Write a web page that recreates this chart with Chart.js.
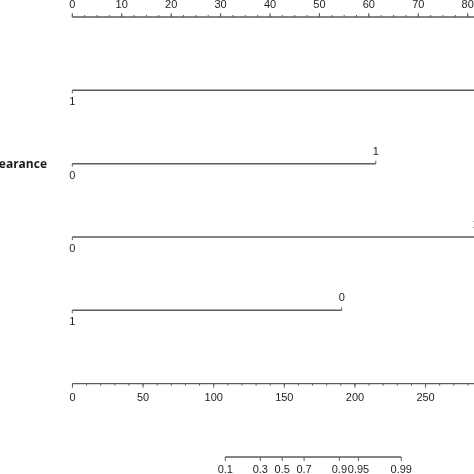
<!DOCTYPE html>
<html>
<head>
<meta charset="utf-8">
<script src="https://cdn.jsdelivr.net/npm/chart.js@4"></script>
<style>
  html,body{margin:0;padding:0;background:#fff;}
  #wrap{width:474px;height:474px;}
</style>
</head>
<body>
<div id="wrap"><canvas id="myCanvas" width="474" height="474"></canvas></div>
<script>
// points scale ticks (top axis)
var pointTicks=[0,10,20,30,40,50,60,70,80,90,100];
// variable rows: start/end in points, labels at the two ends
var rowNames=['','Appearance','',''];
var rowStart=[0,0,0,0];
var rowEnd=[100,61.4,81.6,54.5];
var rowLeftLabel=['1','0','0','1'];
var rowRightLabel=['0','1','1','0'];
// total points axis
var totalTicks=[0,50,100,150,200,250,300,350];
// risk axis: probabilities and where they sit on total points
var riskLabels=['0.1','0.3','0.5','0.7','0.9','0.95','0.99'];
var riskPoints=[108.2,133,148.5,164,189,202.5,232.8];

var lineColor='#5c5c5c';
var textColor='#1e1e1e';
var tickFont='11px "Liberation Sans", Arial, sans-serif';

var nomo={
  id:'nomo',
  afterDatasetsDraw:function(chart){
    var ctx=chart.ctx,x=chart.scales.x,xt=chart.scales.xt,y=chart.scales.y;
    ctx.save();
    ctx.strokeStyle=lineColor;
    ctx.lineWidth=1;
    ctx.fillStyle=textColor;
    ctx.font=tickFont;
    ctx.textAlign='center';
    ctx.textBaseline='middle';

    function tick(px,py,len){
      ctx.beginPath();
      ctx.moveTo(px,py);
      ctx.lineTo(px,py+len);
      ctx.stroke();
    }

    //points axis, ticks up, labels above
    var py=y.getPixelForValue(0);
    for(var v=0;v<=100;v+=2.5){
      tick(x.getPixelForValue(v),py,-2);
    }
    pointTicks.forEach(function(t){
      var px=x.getPixelForValue(t);
      tick(px,py,-4);
      ctx.fillText(String(t),px,py-12);
    });

    //variable rows
    for(var i=0;i<rowEnd.length;i++){
      var ry=y.getPixelForValue(i+1);
      var lx=x.getPixelForValue(rowStart[i]);
      var rx=x.getPixelForValue(rowEnd[i]);
      tick(lx,ry,3);
      ctx.fillText(rowLeftLabel[i],lx,ry+12);
      tick(rx,ry,-3);
      ctx.fillText(rowRightLabel[i],rx,ry-12);
    }

    //total points axis, ticks down, labels below
    var ty=y.getPixelForValue(5);
    for(var v2=0;v2<=350;v2+=10){
      tick(xt.getPixelForValue(v2),ty,2);
    }
    totalTicks.forEach(function(t){
      var px=xt.getPixelForValue(t);
      tick(px,ty,4);
      ctx.fillText(String(t),px,ty+14);
    });

    //risk axis
    var ky=y.getPixelForValue(6);
    riskPoints.forEach(function(t,j){
      var px=xt.getPixelForValue(t);
      tick(px,ky,4);
      ctx.fillText(riskLabels[j],px,ky+13);
    });

    //row names
    ctx.font='bold 12px "Open Sans", sans-serif';
    ctx.textAlign='right';
    rowNames.forEach(function(n,k){
      if(n) ctx.fillText(n,47,y.getPixelForValue(k+1)+1);
    });
    ctx.restore();
  }
};

var datasets=[];
function seg(data,axis,w){
  datasets.push({data:data,xAxisID:axis,showLine:true,borderColor:lineColor,
    borderWidth:w,pointRadius:0,fill:false});
}
seg([{x:0,y:0},{x:100,y:0}],'x',1.3);
for(var i=0;i<rowEnd.length;i++){
  seg([{x:rowStart[i],y:i+1},{x:rowEnd[i],y:i+1}],'x',1.5);
}
seg([{x:0,y:5},{x:350,y:5}],'xt',1.3);
seg([{x:riskPoints[0],y:6},{x:riskPoints[riskPoints.length-1],y:6}],'xt',1.3);

var ctx=document.getElementById('myCanvas');
var myChart=new Chart(ctx,{
  type:'scatter',
  data:{datasets:datasets},
  options:{
    responsive:false,
    animation:false,
    layout:{padding:0},
    plugins:{legend:{display:false},tooltip:{enabled:false}},
    scales:{
      x:{type:'linear',min:-14.63,max:81.27,display:false},
      xt:{type:'linear',min:-51.3,max:284.3,display:false},
      y:{type:'linear',min:-0.232,max:6.232,reverse:true,display:false}
    }
  },
  plugins:[nomo]
});
</script>
</body>
</html>
